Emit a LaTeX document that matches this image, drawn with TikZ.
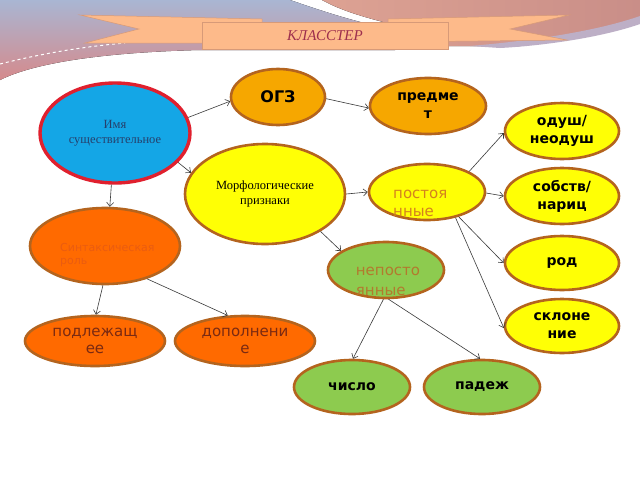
\documentclass[tikz,border=0pt]{standalone}
\usepackage{fontspec}
\setmainfont{Liberation Serif}
\newfontfamily\dv{DejaVu Sans}
\usetikzlibrary{shapes.geometric,arrows.meta}
\definecolor{bandblue}{HTML}{A9B6D3}
\definecolor{bandpink}{HTML}{D58A8C}
\definecolor{bandsalmon}{HTML}{DDA293}
\definecolor{bandsalmon2}{HTML}{C98E88}
\definecolor{bandlav}{HTML}{BDAFC6}
\definecolor{bannerF}{HTML}{FDBA8A}
\definecolor{bannerD}{HTML}{D79A78}
\definecolor{bannerT}{HTML}{9E2F4E}
\definecolor{blueF}{HTML}{14A6E6}
\definecolor{redB}{HTML}{E0202E}
\definecolor{navyT}{HTML}{26406C}
\definecolor{brownB}{HTML}{B4641E}
\definecolor{ogzF}{HTML}{F6A700}
\definecolor{yelF}{HTML}{FFFF05}
\definecolor{oranF}{HTML}{FF6A00}
\definecolor{oranT}{HTML}{EA5C10}
\definecolor{greenF}{HTML}{8DCB4F}
\definecolor{postT}{HTML}{D4821E}
\definecolor{nepT}{HTML}{B27A2E}
\definecolor{podT}{HTML}{7A2A12}
\definecolor{arrC}{HTML}{3A3A3A}
\begin{document}
\begin{tikzpicture}[x=1pt,y=-1pt,
  bub/.style={ellipse, draw=brownB, line width=2.6pt, inner sep=0pt, align=center,
    font=\dv\bfseries\fontsize{14}{18}\selectfont},
  big/.style={minimum width=116pt, minimum height=56pt},
  arr/.style={draw=arrC, line width=0.6pt, -{Straight Barb[length=4pt,width=7pt]}},
  lbl/.style={inner sep=0pt, align=left}]
\useasboundingbox (0,0) rectangle (640,480);
\fill[white] (0,0) rectangle (640,480);
% top band
\fill[top color=bandblue, bottom color=bandpink, shading angle=0]
  (0,0) -- (290,0) .. controls (325,12) and (355,22) .. (395,30) -- (395,50) -- (200,50)
  .. controls (120,52) and (40,60) .. (0,80) -- cycle;
\fill[left color=bandsalmon, right color=bandsalmon2]
  (322,0) -- (640,0) -- (640,20) .. controls (600,32) and (560,42) .. (520,46) -- (400,46)
  -- (400,26) .. controls (365,18) and (340,10) .. (322,0) -- cycle;
\fill[bandlav] (470,46) .. controls (540,40) and (600,30) .. (640,16) -- (640,24)
  .. controls (600,38) and (540,46) .. (500,48) -- cycle;
\draw[white, line width=1pt, dashed] (0,64) .. controls (40,54) and (80,47) .. (125,43);
% banner
\filldraw[fill=bannerF, draw=bannerD, line width=0.5pt]
  (80,15) -- (262,19) -- (262,43) -- (85,43) -- (139,29) -- cycle;
\filldraw[fill=bannerF, draw=bannerD, line width=0.5pt]
  (569,15) -- (388,19) -- (388,42) -- (567,40) -- (510,29) -- cycle;
\node[draw=bannerD, fill=bannerF, line width=0.6pt, minimum width=246pt, minimum height=27pt,
  inner sep=0pt, font=\itshape\fontsize{15}{17}\selectfont, text=bannerT] (title) at (325,35.5) {КЛАССТЕР};
% nodes
\node[bub, fill=blueF, draw=redB, line width=3.4pt, minimum width=150pt, minimum height=100pt,
  font=\fontsize{12.5}{15}\selectfont, text=navyT] (imya) at (115,133) {Имя\\существительное};
\node[bub, fill=ogzF, minimum width=94pt, minimum height=56pt,
  font=\dv\bfseries\fontsize{16}{18}\selectfont] (ogz) at (278,97) {ОГЗ};
\node[bub, big, fill=ogzF] (predmet) at (428,106) {предме\\т};
\node[bub, fill=yelF, minimum width=160pt, minimum height=100pt,
  font=\fontsize{12.5}{15}\selectfont] (morf) at (265,194) {Морфологические\\признаки};
\node[bub, big, fill=yelF] (post) at (427,192) {};
\node[lbl, text=postT, font=\dv\fontsize{15}{18}\selectfont, anchor=north west] (postT) at (393,190) {постоя\\нные};
\node[bub, minimum width=114pt, minimum height=56pt, fill=yelF] (odush) at (562,131) {одуш/\\неодуш};
\node[bub, minimum width=114pt, minimum height=56pt, fill=yelF] (sobstv) at (562,196) {собств/\\нариц};
\node[bub, minimum width=114pt, minimum height=54pt, fill=yelF] (rod) at (562,263) {род};
\node[bub, minimum width=114pt, minimum height=54pt, fill=yelF] (sklon) at (562,326) {склоне\\ние};
\node[bub, fill=oranF, minimum width=150pt, minimum height=76pt] (sint) at (105,246) {};
\node[lbl, text=oranT, font=\dv\fontsize{11}{13}\selectfont, anchor=north west] (sintT) at (60,243) {Синтаксическая\\роль};
\node[bub, big, fill=greenF] (nepost) at (386,270) {};
\node[lbl, text=nepT, font=\dv\fontsize{15}{20}\selectfont, anchor=north] (nepostT) at (388,267) {непосто\\янные};
\node[bub, fill=oranF, minimum width=140pt, minimum height=50pt, text=podT,
  font=\dv\fontsize{15}{17}\selectfont] (podl) at (95,341) {подлежащ\\ее};
\node[bub, fill=oranF, minimum width=140pt, minimum height=50pt, text=podT,
  font=\dv\fontsize{15}{17}\selectfont] (dop) at (245,341) {дополнени\\е};
\node[bub, big, minimum height=54pt, fill=greenF] (chislo) at (352,387) {число};
\node[bub, big, minimum height=54pt, fill=greenF] (padezh) at (482,387) {падеж};
% connectors
\draw[arr] (imya.12) -- (ogz.185);
\draw[arr] (imya.335) -- (morf.164);
\draw[arr] (imya.266) -- (sint.83);
\draw[arr] (ogz.358) -- (predmet.182);
\draw[arr] (morf.0) -- (post.180);
\draw[arr] (morf.326) -- (nepost.157);
\draw[arr] (post.26) -- (odush.182);
\draw[arr] (post.359) -- (sobstv.180);
\draw[arr] (post.322) -- (rod.180);
\draw[arr] (post.318) -- (sklon.182);
\draw[arr] (sint.267) -- (podl.88);
\draw[arr] (sint.322) -- (dop.124);
\draw[arr] (nepost.265) -- (chislo.88);
\draw[arr] (nepost.275) -- (padezh.94);
\end{tikzpicture}
\end{document}
